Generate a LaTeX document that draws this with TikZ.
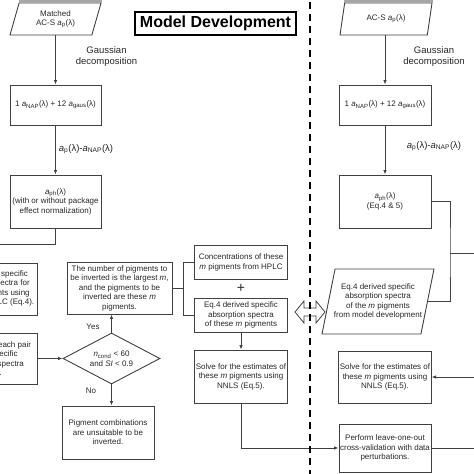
\documentclass[tikz,border=0pt]{standalone}
\usepackage{fontspec}
\setmainfont{Liberation Sans}
\usetikzlibrary{shapes.geometric, arrows.meta}

\newcommand{\ab}[1]{\textit{a}\textsubscript{#1}(λ)}

\begin{document}
\begin{tikzpicture}[x = 1pt, y = -1pt,
                box/.style = {draw = black!75, line width = 0.9pt, minimum width = 92pt, minimum height = 53pt,
                              align = center, inner sep = 1pt, text = black!85, font = \fontsize{8}{9.5}\selectfont},
                slant/.style = {box, trapezium, trapezium left angle = 65, trapezium right angle = 115,
                                trapezium stretches body},
                line/.style = {draw = black!75, line width = 0.9pt},
                arr/.style = {line, -{Latex[length = 4.5pt, width = 3.5pt]}},
                lbl/.style = {align = center, text = black!85, font = \fontsize{9.5}{11}\selectfont},
                small/.style = {text = black!85, font = \fontsize{8}{9.5}\selectfont}]
                \useasboundingbox (0,0) rectangle (474,474);
                \clip (0,0) rectangle (474,474);

                % left column: model development
                \node[slant, minimum width = 91pt, minimum height = 32pt] (inL) at (55.5,19) {Matched\\AC-S \ab{p}};
                \fill[black!35] (inL.top left corner) rectangle (inL.top right corner |- 0,0);
                \node[box, minimum width = 91pt, minimum height = 40pt] (gausL) at (55.5,105) {1 \ab{NAP} + 12 \ab{gaus}};
                \node[box, minimum width = 91pt] (aphL) at (55.5,201.5) {\ab{ph}\\(with or without package\\effect normalization)};
                \node[lbl] (gdL) at (106.5,56.5) {Gaussian\\decomposition};
                \node[lbl] (subL) at (86,149) {\ab{p}-\ab{NAP}};
                \coordinate (jL) at (55.5,244);
                \coordinate (offL) at (-5,244);

                \node[box, minimum height = 52pt] (eqL) at (-9,289) {Eq.4 derived specific\\absorption spectra for\\all the pigments using\\\ab{ph} and HPLC (Eq.4).};
                \node[box, minimum height = 51pt] (pairL) at (-9,358.5) {Calculate for each pair\\of their specific\\absorption spectra\\for \textit{SI}.};
                \node[diamond, draw = black!75, line width = 0.9pt, minimum width = 97pt, minimum height = 51pt,
                      inner sep = 0pt, aspect = 1.9, align = center, small] (cond) at (111.5,358.5)
                      {\textit{n}\textsubscript{cond} < 60\\and \textit{SI} < 0.9};
                \node[box, minimum width = 105pt, minimum height = 52pt] (num) at (119.5,288)
                      {The number of pigments to\\be inverted is the largest \textit{m},\\and the pigments to be\\inverted are these \textit{m}\\pigments.};
                \node[box] (unsuit) at (108,432.5) {Pigment combinations\\are unsuitable to be\\inverted.};
                \node[small] (yes) at (93,327) {Yes};
                \node[small] (no) at (91,391) {No};

                \coordinate (brL) at (183,288);
                \node[box, minimum width = 93pt, minimum height = 34pt] (conc) at (241,262.5) {Concentrations of these\\\textit{m} pigments from HPLC};
                \node[box, minimum width = 93pt, minimum height = 34pt] (eq4L) at (241,315) {Eq.4 derived specific\\absorption spectra\\of these \textit{m} pigments};
                \node[font = \fontsize{14}{14}\selectfont, text = black!85] (plus) at (241,288.5) {+};
                \node[box, minimum width = 93pt] (solveL) at (241,376.5) {Solve for the estimates of\\these \textit{m} pigments using\\NNLS (Eq.5).};

                % right column: application
                \node[slant, minimum height = 32pt] (inR) at (386,19) {AC-S \ab{p}};
                \fill[black!35] (inR.top left corner) rectangle (inR.top right corner |- 0,0);
                \node[box, minimum height = 40pt] (gausR) at (385,105) {1 \ab{NAP} + 12 \ab{gaus}};
                \node[box] (aphR) at (385,201.5) {\ab{ph}\\(Eq.4 \& 5)};
                \node[lbl] (gdR) at (434,56.5) {Gaussian\\decomposition};
                \node[lbl] (subR) at (434,146) {\ab{p}-\ab{NAP}};
                \coordinate (jR) at (450,253);
                \coordinate (offR) at (480,253);
                \node[slant, trapezium left angle = 71, trapezium right angle = 109, inner xsep = -12pt,
                      minimum width = 112pt, minimum height = 65pt] (eq4R) at (378,301.5)
                      {Eq.4 derived specific\\absorption spectra\\of the \textit{m} pigments\\from model development};
                \node[box, minimum height = 52pt] (solveR) at (385,377) {Solve for the estimates of\\these \textit{m} pigments using\\NNLS (Eq.5).};
                \coordinate (offS) at (480,377);
                \node[box, minimum height = 48pt] (perf) at (385,448) {Perform leave-one-out\\cross-validation with data\\perturbations.};
                \coordinate (offP) at (480,448);

                \node[draw = black, line width = 1.2pt, minimum width = 161pt, minimum height = 23pt, inner sep = 1pt,
                      font = \fontsize{16}{16}\bfseries] (title) at (215.5,23.5) {Model Development};

                % connectors
                \draw[arr] (inL.south -| gausL.north) -- (gausL.north);
                \draw[arr] (gausL) -- (aphL);
                \draw[line] (aphL.south) -- (jL) -- (offL);
                \draw[arr] (pairL.east) -- (cond.west);
                \draw[arr] (cond.north) -- (cond.north |- num.south);
                \draw[arr] (cond.south) -- (cond.south |- unsuit.north);
                \draw[line] (num.east) -- (brL);
                \draw[line] (brL) |- (conc.west);
                \draw[line] (brL) |- (eq4L.west);
                \draw[arr] (eq4L) -- (solveL);
                \draw[arr] (solveL.south) |- (perf.west);
                \draw[line] (perf.east) -- (offP);

                \draw[arr] (inR.south -| gausR.north) -- (gausR.north);
                \draw[arr] (gausR) -- (aphR);
                \draw[line] (aphR.east) -| (jR) |- (eq4R.east);
                \draw[line] (jR) -- (offR);
                \draw[arr] (offS) -- (solveR.east);

                % exchange arrow and divider
                \draw[black!75, line width = 0.8pt, fill = white] (295,312) -- (304,301) -- (304,308) -- (316,308) -- (316,301)
                      -- (325,312) -- (316,323) -- (316,316) -- (304,316) -- (304,323) -- cycle;
                \draw[black, line width = 2.2pt, dash pattern = on 7pt off 5pt] (310,2) -- (310,474);
            \end{tikzpicture}
\end{document}
